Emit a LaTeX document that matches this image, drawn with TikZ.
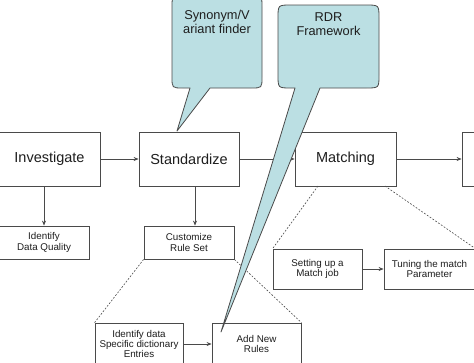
\documentclass[tikz,border=0pt]{standalone}
\usepackage{fontspec}
\setmainfont{Liberation Sans}
\usetikzlibrary{arrows.meta}
\definecolor{lineg}{HTML}{4A4A4A}
\definecolor{callfill}{HTML}{BBDFE3}
\definecolor{txt}{HTML}{1E1E1E}
\begin{document}
\begin{tikzpicture}[x=1pt,y=-1pt,
  box/.style={draw=lineg, line width=0.8pt, inner sep=0pt, text=txt, align=center},
  mainbox/.style={box, font=\fontsize{14.5}{16}\selectfont},
  subbox/.style={box, font=\fontsize{9.8}{10.3}\selectfont},
  arr/.style={draw=lineg, line width=0.7pt, -{Stealth[length=5pt,width=4pt]}},
  dashline/.style={draw=lineg, line width=0.6pt, dash pattern=on 1.8pt off 1.6pt},
  callout/.style={draw=lineg, line width=0.8pt, fill=callfill, line join=round},
  calltext/.style={text=txt, align=center, font=\fontsize{12.8}{13.8}\selectfont, inner sep=0pt}]
\useasboundingbox (0,0) rectangle (474,362);
\clip (0,0) rectangle (474,362);
\fill[white] (0,0) rectangle (474,362);

% main row
\node[mainbox, minimum width=101pt, minimum height=54pt] (inv) at (49.5,159) {Investigate};
\node[mainbox, minimum width=100pt, minimum height=54pt] (std) at (189,159) {Standardize};
\node[mainbox, minimum width=101pt, minimum height=54pt] (mat) at (345.5,159) {Matching};
\node[mainbox, minimum width=58pt, minimum height=54pt] (fourth) at (491,159) {};

% sub boxes
\node[subbox, minimum width=90pt, minimum height=33pt] (idq) at (44,242.5) {Identify\\Data Quality};
\node[subbox, minimum width=90pt, minimum height=33pt] (crs) at (189,242.5) {Customize\\Rule Set};
\node[subbox, minimum width=89pt, minimum height=40pt] (smj) at (317.5,269) {Setting up a\\Match job};
\node[subbox, minimum width=91pt, minimum height=40pt] (tmp) at (429.5,269) {Tuning the match\\Parameter};
\node[subbox, minimum width=88pt, minimum height=42pt] (ids) at (139,344) {Identify data\\Specific dictionary\\Entries};
\node[subbox, minimum width=89pt, minimum height=42pt] (anr) at (256.5,344) {Add New\\Rules};

% arrows
\draw[arr] (inv.east) -- (std.west);
\draw[arr] (std.east) -- (mat.west);
\draw[arr] (mat.east) -- (fourth.west);
\draw[arr] (idq.north |- inv.south) -- (idq.north);
\draw[arr] ([xshift=6pt]std.south) -- ([xshift=6pt]crs.north);
\draw[arr] (smj.east) -- (tmp.west);
\draw[arr] (ids.east) -- (anr.west);

% dashed expansions
\coordinate (m1) at (318,186);
\coordinate (m2) at (385,186);
\draw[dashline] (m1) -- (smj.north west);
\draw[dashline] (m2) -- (tmp.north east);
\draw[dashline] (crs.south west) -- (ids.north west);
\draw[dashline] (crs.south east) -- (anr.north east);

% callouts
\draw[callout] (177,131) -- (210,88) -- (251,88) .. controls (262,88) .. (262,77)
  -- (262,7) .. controls (262,-4) .. (251,-4) -- (183,-4) .. controls (172,-4) .. (172,7)
  -- (172,77) .. controls (172,88) .. (183,88) -- (190,88) -- cycle;
\node[calltext] (syn) at (217,22) {Synonym/V\\ariant finder};

\draw[callout] (221,332) -- (320,88) -- (366,88) .. controls (379,88) .. (379,75)
  -- (379,18) .. controls (379,5) .. (366,5) -- (291,5) .. controls (278,5) .. (278,18)
  -- (278,75) .. controls (278,88) .. (291,88) -- (295,88) -- cycle;
\node[calltext] (rdr) at (328.5,24) {RDR\\Framework};
\end{tikzpicture}
\end{document}
